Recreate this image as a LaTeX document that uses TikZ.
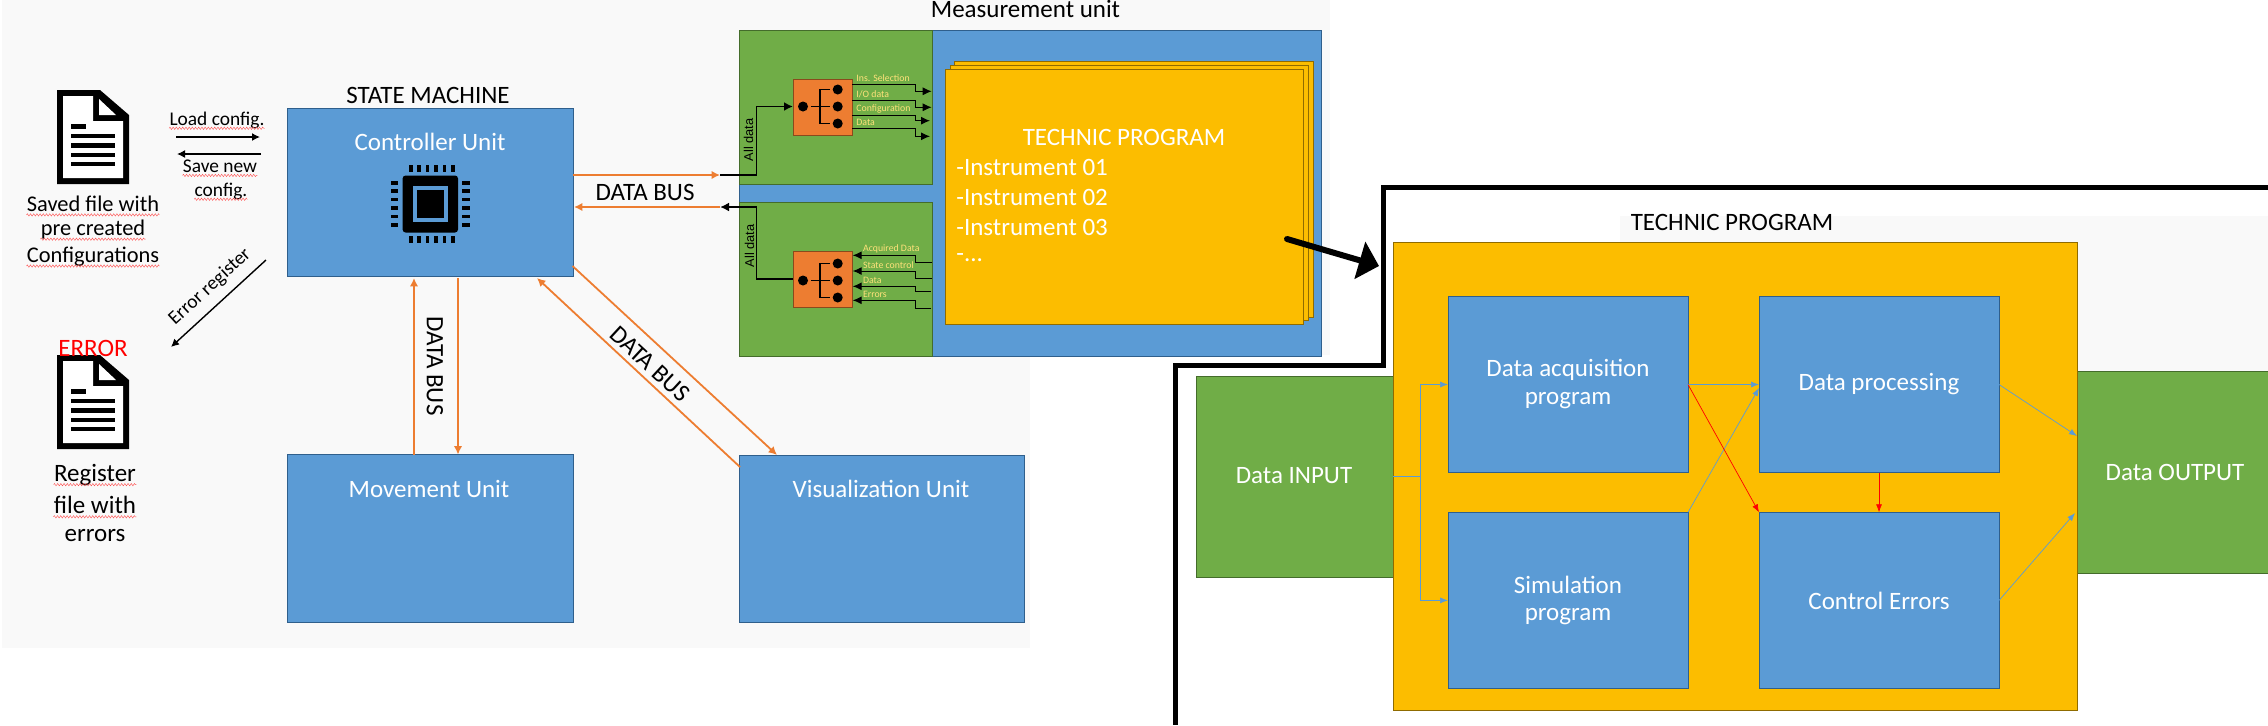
\documentclass[tikz,border=0pt]{standalone}
\usepackage{fontspec}
\setmainfont{Carlito}
\newfontfamily\alldatafont{Liberation Sans}
\usetikzlibrary{arrows.meta,decorations.pathmorphing}

\definecolor{boxblue}{HTML}{5B9BD5}
\definecolor{boxblueline}{HTML}{2F5F8C}
\definecolor{boxgreen}{HTML}{70AD47}
\definecolor{boxgreenline}{HTML}{446C2B}
\definecolor{boxorange}{HTML}{ED7D31}
\definecolor{boxorangeline}{HTML}{8A4A1C}
\definecolor{boxyellow}{HTML}{FCBD00}
\definecolor{boxyellowline}{HTML}{8F6B00}
\definecolor{labelyellow}{HTML}{FFE27A}
\definecolor{pagegrey}{HTML}{F9F9F9}

\tikzset{
  box/.style={draw,line width=0.5pt,inner sep=0pt,outer sep=0pt,anchor=north west},
  bluebox/.style={box,fill=boxblue,draw=boxblueline},
  greenbox/.style={box,fill=boxgreen,draw=boxgreenline},
  orangebox/.style={box,fill=boxorange,draw=boxorangeline},
  yellowbox/.style={box,fill=boxyellow,draw=boxyellowline},
  txt/.style={inner sep=0pt,font=\fontsize{12.5}{14}\selectfont},
  wtxt/.style={txt,text=white},
  doctxt/.style={inner sep=0pt,font=\fontsize{11.2}{13}\selectfont},
  cfgtxt/.style={inner sep=0pt,font=\fontsize{9.7}{11}\selectfont},
  tiny/.style={inner sep=0pt,anchor=west,text=labelyellow,font=\fontsize{4.9}{6}\selectfont},
  alldata/.style={inner sep=0pt,rotate=90,font=\alldatafont\fontsize{6.4}{7}\selectfont},
  bus/.style={draw=boxorange,line width=0.9pt,-{Latex[length=4.2pt,width=4.2pt]}},
  blackarrow/.style={draw=black,line width=0.7pt,-{Latex[length=4pt,width=4pt]}},
  feed/.style={draw=black,line width=0.5pt,-{Latex[length=4.5pt,width=4pt]}},
  wire/.style={draw=black,line width=0.9pt},
  flow/.style={draw=boxblue,line width=0.35pt,-{Latex[length=4pt,width=3pt]}},
  redflow/.style={draw=red,line width=0.35pt,-{Latex[length=4pt,width=3pt]}},
  spell/.style={draw=red!70,line width=0.2pt,decorate,decoration={zigzag,segment length=1.6pt,amplitude=0.6pt}},
  docicon/.pic={
    \fill[black] (0,0) -- (43,0) -- (72,25) -- (72,94) -- (0,94) -- cycle;
    \fill[white] (6,6) -- (36,6) -- (36,31) -- (66,31) -- (66,88) -- (6,88) -- cycle;
    \fill[white] (42,9) -- (42,25) -- (59,25) -- cycle;
    \fill[black] (14,34) rectangle (29,38.5);
    \foreach \y in {43.5,53,62.5,71.5} \fill[black] (14,\y) rectangle (58,\y+4.5);
  },
  splitter/.pic={
    \fill[black] (0,0) circle (5) (34.7,-17) circle (5) (34.7,0) circle (5) (34.7,17) circle (5);
    \draw[black,line width=0.9pt] (8,0) -- (27,0) (27,-17) -- (17,-17) -- (17,17) -- (27,17);
  }
}

% box with corners in pixels of the picture
\newcommand{\pxbox}[6]{\node[#1,minimum width={(#5-#3)*0.5pt},minimum height={(#6-#4)*0.5pt}] (#2) at (#3,#4) {};}
\newcommand{\squig}[1]{\draw[spell] ([yshift=-1.6pt]#1.base west) -- ([yshift=-1.6pt]#1.base east);}

\begin{document}
\begin{tikzpicture}[x=0.5pt,y=-0.5pt]
\useasboundingbox (0,0) rectangle (2268,725);

% A. light page behind the left part
\fill[pagegrey] (2,0) rectangle (1030,648);
\fill[pagegrey] (1030,0) rectangle (1330,355);
\fill[pagegrey] (1620,216) rectangle (2268,372);
\fill[pagegrey] (2077,372) rectangle (2268,574);

% B. files on the left
\pic at (57,90) {docicon};
\pic at (57,355) {docicon};
\node[doctxt] (saved1) at (93,204) {Saved file with};
\node[doctxt] (saved2) at (93,230) {pre created};
\node[doctxt] (saved3) at (93,257) {Configurations};
\node[txt,text=red] (errtitle) at (93,348) {ERROR};
\node[txt] (reg1) at (95,475) {Register};
\node[txt] (reg2) at (95,505) {file with};
\node[txt] (reg3) at (95,536) {errors};
\squig{saved1} \squig{saved2} \squig{saved3} \squig{reg1} \squig{reg2}

% C. load, save and error arrows
\coordinate (load a) at (176,137);
\coordinate (load b) at (260,137);
\coordinate (save a) at (261,154);
\coordinate (save b) at (177,154);
\coordinate (err a) at (266,260);
\coordinate (err b) at (171,347);
\draw[blackarrow] (load a) -- (load b);
\draw[blackarrow] (save a) -- (save b);
\draw[blackarrow] (err a) -- (err b);
\node[cfgtxt] (loadtxt) at (217,120) {Load config.};
\node[cfgtxt] (savetxt1) at (220,166) {Save new};
\node[cfgtxt] (savetxt2) at (221,191) {config.};
\node[cfgtxt,rotate=42.5] (errtxt) at (210,287) {Error register};
\squig{loadtxt} \squig{savetxt1} \squig{savetxt2}

% D. the three units
\pxbox{bluebox}{ctrl}{287}{108.5}{573}{276.5}
\pxbox{bluebox}{move}{287}{454.5}{573}{622.5}
\pxbox{bluebox}{visu}{739}{455}{1024}{622.5}
\node[txt] (smtxt) at (428,95) {STATE MACHINE};
\node[wtxt] (ctrltxt) at (430,142) {Controller Unit};
\node[wtxt] (movetxt) at (429,489) {Movement Unit};
\node[wtxt] (visutxt) at (881,489) {Visualization Unit};

% E. chip inside the controller
\fill[black,rounded corners=1.5pt] (402.6,175.5) rectangle (458,232.5);
\fill[boxblue] (412.5,186) rectangle (447.5,221.5);
\fill[black] (416.5,190) rectangle (444,217.5);
\foreach \p in {0,...,5} {
  \fill[black] (409+\p*8.4,165) rectangle (412.5+\p*8.4,172);
  \fill[black] (409+\p*8.4,236) rectangle (412.5+\p*8.4,243);
  \fill[black] (390.5,181+\p*8.4) rectangle (398,184.5+\p*8.4);
  \fill[black] (462,181+\p*8.4) rectangle (469.5,184.5+\p*8.4);
}

% F. measurement unit
\pxbox{bluebox}{meas}{739}{30}{1321.5}{356}
\pxbox{greenbox}{grtop}{739}{30}{932.6}{184}
\pxbox{greenbox}{grbot}{739}{202}{932.6}{356}
\pxbox{orangebox}{ortop}{793}{79.3}{852}{135.5}
\pxbox{orangebox}{orbot}{793}{251.3}{852}{307.5}
\pic at (803,106.5) {splitter};
\pic at (803,280.5) {splitter};
\pxbox{yellowbox}{prog3}{954}{61}{1313.6}{317}
\pxbox{yellowbox}{prog2}{950}{65}{1308.6}{320}
\pxbox{yellowbox}{prog1}{945.4}{69}{1303.6}{324}
\node[txt] (meastxt) at (1025.5,9) {Measurement unit};
\node[wtxt] (progtxt) at (1124,137) {TECHNIC PROGRAM};
\foreach \n/\y/\t in {a/167/{-Instrument 01},b/197/{-Instrument 02},c/227/{-Instrument 03}}
  \node[wtxt,anchor=west] (inst\n) at (956,\y) {\t};
\node[wtxt,anchor=west] (instd) at (956,258) {-{}.{}.{}.};
\node[alldata] (adtop) at (748.5,140) {All data};
\node[alldata] (adbot) at (749.5,246) {All data};

% G. little wires of the two splitters
\foreach \n/\a/\b/\e/\t in {a/84.3/91.3/931.7/{Ins. Selection},b/100.3/107.3/931.7/{I/O data},c/115.3/120.7/930/{Configuration},d/128.3/136.3/930/{Data}} {
  \coordinate (out\n) at (852,\a);
  \coordinate (outend\n) at (\e,\b);
  \draw[feed] (out\n) -- (915.7,\a) -- (915.7,\b) -- (outend\n);
  \node[tiny] (outtxt\n) at (856,\a-6) {\t};
}
\foreach \n/\a/\b/\e/\t in {a/262.3/255.3/932/{Acquired Data},b/278.3/271/932/{State control},c/291.7/286.3/931/{Data},d/308.3/300.3/931/{Errors}} {
  \coordinate (in\n) at (\e,\a);
  \coordinate (inend\n) at (852.7,\b);
  \draw[feed] (in\n) -- (915.7,\a) -- (915.7,\b) -- (inend\n);
  \node[tiny] (intxt\n) at (862.7,\b-6) {\t};
}

% H. data bus between the units
\coordinate (bus a) at (573,175);
\coordinate (bus b) at (720,175);
\coordinate (bus c) at (720,207);
\coordinate (bus d) at (574,207);
\coordinate (bus e) at (793,106.5);
\coordinate (bus f) at (793,279);
\draw[bus] (bus a) -- (bus b);
\draw[bus] (bus c) -- (bus d);
\draw[wire,-{Latex[length=4.5pt,width=4.5pt]}] (bus b) -- (756.4,175) -- (756.4,106.5) -- (bus e);
\draw[wire,-{Latex[length=4.5pt,width=4.5pt]}] (bus f) -- (756.4,279) -- (756.4,207) -- (bus c);
\node[txt] (bustxt1) at (645,192) {DATA BUS};

\coordinate (up a) at (414,454.5);
\coordinate (up b) at (414,278);
\coordinate (down a) at (458,278);
\coordinate (down b) at (458,454.5);
\draw[bus] (up a) -- (up b);
\draw[bus] (down a) -- (down b);
\node[txt,rotate=-90] (bustxt2) at (435,366) {DATA BUS};

\coordinate (diag a) at (572.5,266);
\coordinate (diag b) at (777,455);
\coordinate (diag c) at (740,467);
\coordinate (diag d) at (537,278);
\draw[bus] (diag a) -- (diag b);
\draw[bus] (diag c) -- (diag d);
\node[txt,rotate=-42.7] (bustxt3) at (650,364) {DATA BUS};

% I. detail of the technic program
\draw[black,line width=2.5pt] (2268,187) -- (1383.3,187) -- (1383.3,365.8) -- (1175,365.8) -- (1175,725);
\pxbox{greenbox}{input}{1196}{376}{1393}{577.4}
\pxbox{greenbox}{output}{2077}{371.4}{2268}{573.2}
\pxbox{yellowbox}{tech}{1393}{242.6}{2077}{710.5}
\pxbox{bluebox}{acq}{1448}{296.4}{1688}{472.7}
\pxbox{bluebox}{proc}{1759}{296.4}{1999}{472.7}
\pxbox{bluebox}{simu}{1448}{512.3}{1688}{688.6}
\pxbox{bluebox}{ctrlerr}{1759}{512.3}{1999}{688.6}
\node[txt] (techtxt) at (1732,222.4) {TECHNIC PROGRAM};
\node[wtxt] (inputtxt) at (1294,476) {Data INPUT};
\node[wtxt] (outputtxt) at (2175,472.7) {Data OUTPUT};
\node[wtxt] (acqtxt1) at (1568,369.6) {Data acquisition};
\node[wtxt] (acqtxt2) at (1568,400.4) {program};
\node[wtxt] (proctxt) at (1879,384.5) {Data processing};
\node[wtxt] (simutxt1) at (1568,585) {Simulation};
\node[wtxt] (simutxt2) at (1568,616.7) {program};
\node[wtxt] (errtxt2) at (1879,600.4) {Control Errors};

\coordinate (in a) at (1393,476.5);
\coordinate (in b) at (1420,476.5);
\coordinate (acq in) at (1448,384.5);
\coordinate (simu in) at (1448,600.4);
\coordinate (acq out) at (1688,384.5);
\coordinate (proc in) at (1759,384.5);
\coordinate (proc in2) at (1759,388);
\coordinate (proc out) at (1999,384.5);
\coordinate (err out) at (1999,600.4);
\coordinate (output a) at (2077,436);
\coordinate (output b) at (2075,513);
\draw[flow] (in a) -- (in b) -- (1420,384.5) -- (acq in);
\draw[flow] (in b) -- (1420,600.4) -- (simu in);
\draw[flow] (acq out) -- (proc in);
\draw[flow] (simu.north east) -- (proc in2);
\draw[redflow] (acq out) -- (ctrlerr.north west);
\draw[redflow] (proc.south) -- (ctrlerr.north);
\draw[flow] (proc out) -- (output a);
\draw[flow] (err out) -- (output b);

% J. big arrow from the program to its detail
\coordinate (hand a) at (1287,239);
\coordinate (hand b) at (1379,266);
\draw[black,line width=3pt,line cap=round,-{Triangle[length=10pt,width=19pt]}] (hand a) -- (hand b);
\end{tikzpicture}
\end{document}
